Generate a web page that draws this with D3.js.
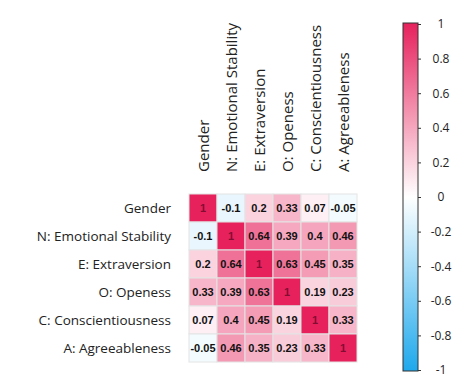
<!DOCTYPE html>
<html>
<head>
<meta charset="utf-8">
<script src="https://cdn.jsdelivr.net/npm/d3@7"></script>
<style>
  body { margin: 0; background: #fff; }
  svg { display: block; }
</style>
</head>
<body>
<div id="chart"></div>
<script>
var svgWidth = 474;
var svgHeight = 384;

// traits, same order for rows and columns
var traits = ["Gender", "N: Emotional Stability", "E: Extraversion",
  "O: Openess", "C: Conscientiousness", "A: Agreeableness"];

// correlation matrix, row by row
var corr = [
  [1, -0.1, 0.2, 0.33, 0.07, -0.05],
  [-0.1, 1, 0.64, 0.39, 0.4, 0.46],
  [0.2, 0.64, 1, 0.63, 0.45, 0.35],
  [0.33, 0.39, 0.63, 1, 0.19, 0.23],
  [0.07, 0.4, 0.45, 0.19, 1, 0.33],
  [-0.05, 0.46, 0.35, 0.23, 0.33, 1]
];

var legendTicks = [1, 0.8, 0.6, 0.4, 0.2, 0, -0.2, -0.4, -0.6, -0.8, -1];

var grid = { left: 189, top: 194, size: 168 };

var svg = d3.select("#chart")
  .append("svg")
  .attr("width", svgWidth)
  .attr("height", svgHeight);

var x = d3.scaleBand().domain(traits).range([grid.left, grid.left + grid.size]);
var y = d3.scaleBand().domain(traits).range([grid.top, grid.top + grid.size]);

var color = d3.scaleLinear()
  .domain([-1, 0, 1])
  .range(["#1ea8ec", "#ffffff", "#e6215c"]);

// flatten matrix into cells
var cells = [];
corr.forEach(function(row, i) {
  row.forEach(function(v, j) {
    cells.push({ row: traits[i], col: traits[j], value: v, diag: i === j });
  });
});

//Heatmap cells
svg.append("g")
  .selectAll("rect")
  .data(cells)
  .enter()
  .append("rect")
  .attr("x", d => x(d.col))
  .attr("y", d => y(d.row))
  .attr("width", x.bandwidth())
  .attr("height", y.bandwidth())
  .attr("fill", d => color(d.value))
  .attr("stroke", "#e4e4e4")
  .attr("stroke-width", 1);

//Cell values
svg.append("g")
  .selectAll("text")
  .data(cells)
  .enter()
  .append("text")
  .attr("x", d => x(d.col) + x.bandwidth() / 2)
  .attr("y", d => y(d.row) + y.bandwidth() / 2)
  .attr("text-anchor", "middle")
  .attr("dominant-baseline", "central")
  .attr("font-family", "Liberation Sans, Arial, sans-serif")
  .attr("font-size", "11px")
  .style("font-weight", "bold")
  .attr("fill", d => d.diag ? "rgba(60,0,20,0.6)" : "#111")
  .text(d => d.value);

//Row labels
svg.append("g")
  .selectAll("text")
  .data(traits)
  .enter()
  .append("text")
  .attr("x", grid.left - 18)
  .attr("y", d => y(d) + y.bandwidth() / 2)
  .attr("text-anchor", "end")
  .attr("dominant-baseline", "central")
  .attr("font-family", "Open Sans, sans-serif")
  .attr("font-size", "13.5px")
  .attr("fill", "#222")
  .text(d => d);

//Column labels
svg.append("g")
  .selectAll("text")
  .data(traits)
  .enter()
  .append("text")
  .attr("transform", d => `translate(${x(d) + x.bandwidth() / 2}, ${grid.top - 22}) rotate(-90)`)
  .attr("text-anchor", "start")
  .attr("dominant-baseline", "central")
  .attr("font-family", "Open Sans, sans-serif")
  .attr("font-size", "15px")
  .attr("fill", "#222")
  .text(d => d);

//Colour bar
var barX = 403, barW = 15;
var ly = d3.scaleLinear().domain([1, -1]).range([24, 370]);

var grad = svg.append("defs").append("linearGradient")
  .attr("id", "cbar")
  .attr("x1", 0).attr("y1", 0).attr("x2", 0).attr("y2", 1);
[1, 0, -1].forEach(function(v) {
  grad.append("stop")
    .attr("offset", (ly(v) - ly(1)) / (ly(-1) - ly(1)))
    .attr("stop-color", color(v));
});

svg.append("rect")
  .attr("x", barX)
  .attr("y", ly(1) - 1)
  .attr("width", barW)
  .attr("height", ly(-1) - ly(1) + 2)
  .attr("fill", "url(#cbar)")
  .attr("stroke", "#333")
  .attr("stroke-width", 1);

var legendAxis = d3.axisRight(ly)
  .tickValues(legendTicks)
  .tickSize(3)
  .tickFormat(d => d);

var axisG = svg.append("g")
  .attr("transform", `translate(${barX + barW}, 0)`)
  .call(legendAxis);
axisG.select(".domain").remove();
axisG.selectAll(".tick line").attr("stroke", "#333");
axisG.selectAll(".tick text")
  .attr("x", 23)
  .attr("text-anchor", "middle")
  .attr("font-family", "Open Sans, sans-serif")
  .attr("font-size", "12px")
  .attr("fill", "#222");
</script>
</body>
</html>
